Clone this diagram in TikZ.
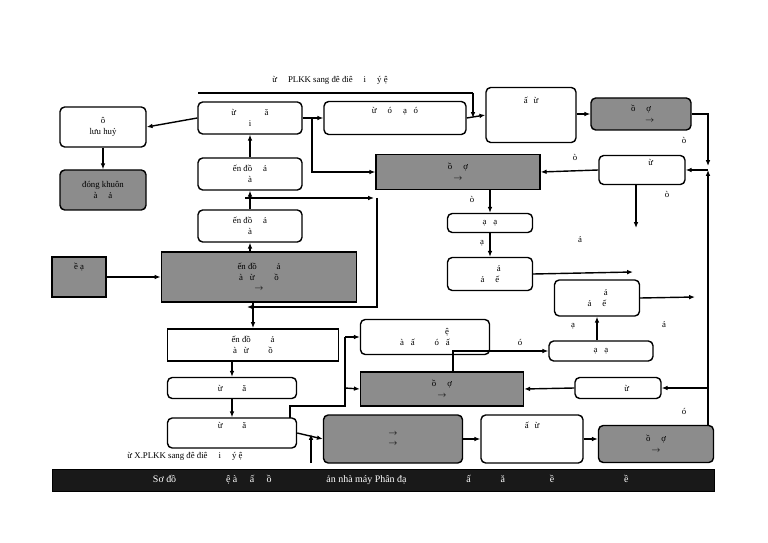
\documentclass[tikz,border=0pt]{standalone}
\usepackage{fontspec}
\setmainfont{Liberation Serif}
\usetikzlibrary{arrows.meta,positioning}
\definecolor{boxgrey}{HTML}{8C8C8C}
\begin{document}
\begin{tikzpicture}[
            x=0.03cm, y=-0.03cm,
            sz/.style 2 args={minimum width=#1*0.03cm, minimum height=#2*0.03cm},
            box/.style={rectangle, draw, very thick, rounded corners=4pt, fill=white, inner sep=1pt, align=center, font=\fontsize{7.5}{9}\selectfont},
            greybox/.style={box, fill=boxgrey},
            sqbox/.style={box, rounded corners=0pt},
            sqgrey/.style={greybox, rounded corners=0pt},
            lbl/.style={font=\fontsize{7.5}{9}\selectfont, inner sep=1pt},
            arrow/.style={-{Latex[length=5pt,width=4pt]}, very thick}
        ]
        \useasboundingbox (0,0) rectangle (768,543);

        % Left column
        \node[box, sz={86}{40}] (scrap) at (103,127) {ô\\lưu huỷ};
        \node[greybox, sz={86}{40}] (mould) at (103,190) {đóng khuôn\\à \quad ả};
        \node[sqgrey, line width=1.6pt, sz={54}{40}] (feed) at (79,277) {ề ạ\\[1.2em]};

        % Centre column
        \node[box, sz={104}{32}] (cut) at (250,118) {ừ \qquad\quad ă\\i};
        \node[box, sz={104}{32}] (map1) at (250,174) {ến đồ \quad ả\\à};
        \node[box, sz={104}{32}] (map2) at (250,226) {ến đồ \quad ả\\à};
        \node[sqgrey, line width=1.6pt, sz={195}{50}] (main) at (259,277) {ến đồ \qquad ả\\à \; ừ \qquad ồ\\$\rightarrow$};
        \node[sqbox, line width=1.6pt, sz={171}{32}] (map3) at (253,345) {ến đồ \qquad ả\\à \; ừ \qquad ồ};
        \node[box, sz={129}{21}] (stepa) at (232,388) {ừ \qquad ă};
        \node[box, sz={129}{30}] (stepb) at (232,433) {ừ \qquad ă\\[0.6em]};

        % Upper right
        \node[box, sz={142}{33}] (proc) at (395,118) {ừ \quad ó \quad ạ \; ó\\[0.6em]};
        \node[box, sz={90}{55}] (check1) at (531,115) {ấ \, ừ\\[2.2em]};
        \node[greybox, sz={100}{32}] (out1) at (641,114) {ồ \quad ợ\\ \qquad $\rightarrow$};
        \node[sqgrey, sz={164}{35}] (mix1) at (458,172) {ồ \quad ợ\\$\rightarrow$\qquad};
        \node[box, sz={86}{29}] (ret1) at (642,170) {\qquad ừ\\[0.6em]};
        \node[box, sz={85}{19}] (lab1) at (490,223) {ạ \; ạ};
        \node[box, sz={85}{33}] (res1) at (490,274) {\qquad ả\\ả \quad ế};
        \node[box, sz={85}{36}] (res2) at (597,298) {\qquad ả\\ả \quad ế};

        % Lower right
        \node[box, sz={129}{35}] (rep) at (425,337) {\qquad\qquad\quad ệ\\à \; ấ \qquad ó \; ấ};
        \node[box, sz={104}{20}] (lab2) at (601,351) {ạ \; ạ};
        \node[sqgrey, sz={163}{34}] (mix2) at (442,389) {ồ \quad ợ\\$\rightarrow$};
        \node[box, sz={86}{21}] (ret2) at (618,388) {\qquad ừ};
        \node[greybox, sz={139}{48}] (blend) at (393,439) {$\rightarrow$\\$\rightarrow$};
        \node[box, sz={102}{48}] (check2) at (532,439) {ấ \, ừ\\[2em]};
        \node[greybox, sz={115}{37}] (out2) at (656,444) {ồ \quad ợ\\$\rightarrow$};

        % Free labels
        \node[lbl] (toptext) at (330,80) {ừ \quad PLKK sang đê điê \quad i \quad ý ệ};
        \node[lbl] (bottext) at (185,456) {ừ X.PLKK sang đê điê \quad i \quad ý ệ};
        \node[lbl] at (575,157) {ò};
        \node[lbl] at (684,140) {ò};
        \node[lbl] at (667,194) {ò};
        \node[lbl] at (472,199) {ò};
        \node[lbl] at (482,243) {ạ};
        \node[lbl] at (580,240) {ả};
        \node[lbl] at (664,325) {ả};
        \node[lbl] at (573,326) {ạ};
        \node[lbl] at (520,342) {ó};
        \node[lbl] at (684,411) {ó};

        % Title bar
        \node[rectangle, fill=black!90, draw=black, sz={662}{22}, text=white, font=\fontsize{8.5}{10}\selectfont, anchor=west] (title) at (52,480)
            {\hspace{1.5em}Sơ đồ \hspace{4.5em} ệ à \quad ấ \quad ồ \hspace{5em} ản nhà máy Phân đạ \hspace{5.5em} ấ \hspace{2.5em} ă \hspace{4em} ề \hspace{6.5em} ề\hfill};

        % Connectors
        \coordinate (rail) at (708,118);
        \draw[arrow] (cut.west) -- (scrap.east);
        \draw[arrow] (scrap) -- (mould);
        \draw[arrow] (cut.east) -- (proc.west);
        \draw[arrow] (312,118) |- (mix1.west);
        \draw[arrow] (proc.east) -- (check1.west);
        \draw[very thick] (198,93) -- (473,93);
        \draw[arrow] (473,93) -- (473,118);
        \draw[arrow] (check1.east |- out1) -- (out1.west);
        \draw[very thick] (out1.east) -| (rail);
        \draw[arrow] (rail) -- (708,166);
        \draw[arrow] (out2.north -| rail) -- (708,170);
        \draw[arrow] (708,170) -- (ret1.east);
        \draw[arrow] (ret1.west) -- (mix1.east);
        \draw[arrow] (ret1.south -| 636,0) -- (636,228);
        \draw[arrow] (mix1.south -| lab1) -- (lab1.north);
        \draw[arrow] (lab1) -- (res1);
        \draw[arrow] (res1.east) -- (633,272);
        \draw[arrow] (res2.east) -- (695,297);
        \draw[arrow] (lab2.north -| res2) -- (res2.south);
        \draw[arrow] (mix2.north -| 453,0) |- (lab2.west);
        \draw[arrow] (708,388) -- (ret2.east);
        \draw[arrow] (ret2.west) -- (mix2.east);

        \draw[arrow] (map1) -- (cut);
        \draw[arrow] (map2) -- (map1);
        \draw[arrow] (main.north -| map2) -- (map2.south);
        \draw[arrow] (245,198) -- (374,198);
        \draw[arrow] (377,198) -- (377,307) -- (247,307);
        \draw[arrow] (feed.east) -- (main.west);
        \draw[arrow] (main.south -| map3) -- (map3.north);
        \draw[arrow] (map3.south -| stepa) -- (stepa.north);
        \draw[arrow] (stepa) -- (stepb);
        \draw[very thick] (290,418) -- (290,406) -- (345,406) -- (345,337);
        \draw[arrow] (345,337) -- (rep.west);
        \draw[arrow] (345,388) -- (mix2.west);
        \draw[arrow] (stepb.east) -- (blend.west);
        \draw[arrow] (311,463) -- (311,434);
        \draw[arrow] (blend.east) -- (check2.west);
        \draw[arrow] (check2.east) -- (out2.west |- check2);
\end{tikzpicture}
\end{document}
